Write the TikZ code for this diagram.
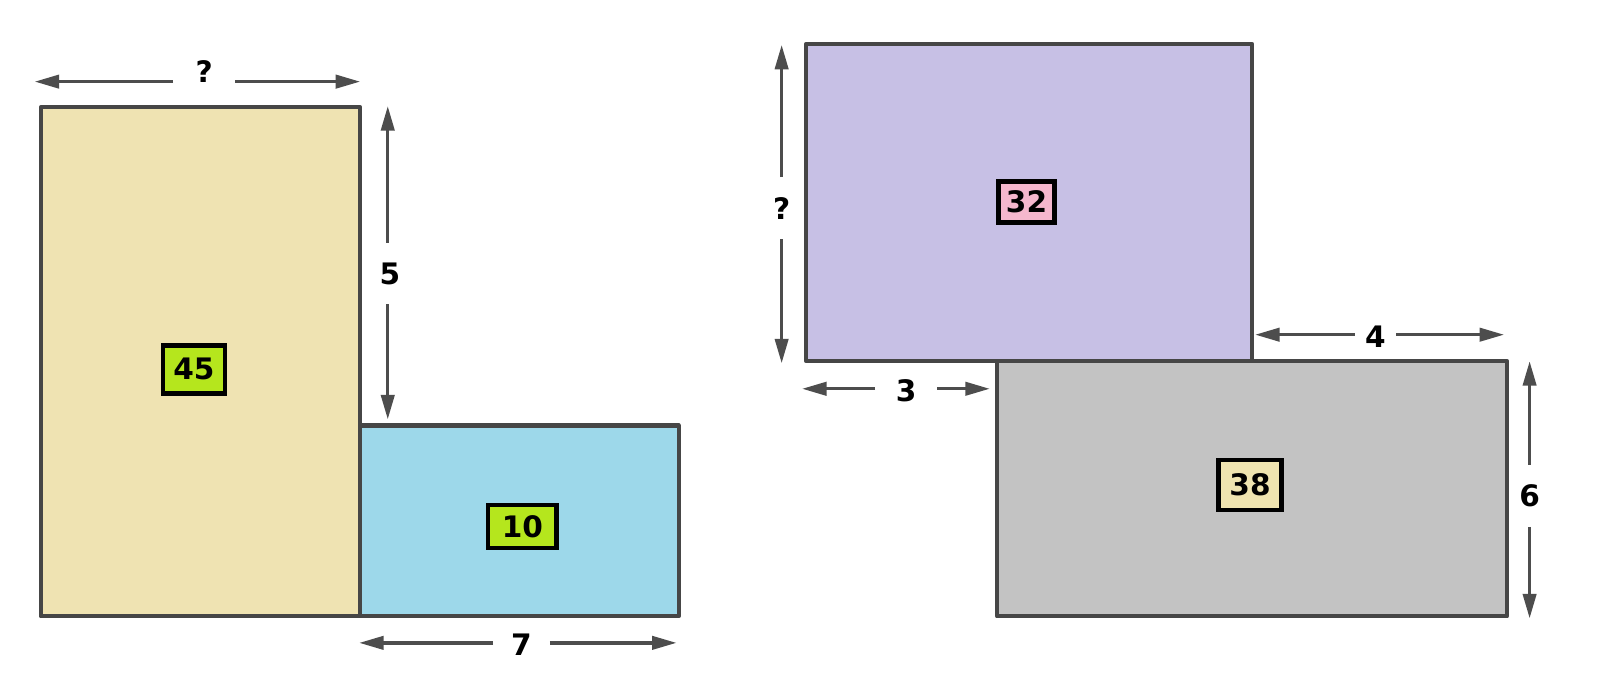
\documentclass[tikz,border=0pt]{standalone}
\usepackage{fontspec}
\setmainfont{DejaVu Sans}
\usetikzlibrary{positioning,arrows.meta}
\definecolor{amarillo}{HTML}{EFE3B2}
\definecolor{celeste}{HTML}{9DD8EA}
\definecolor{lima}{HTML}{B5E61D}
\definecolor{lila}{HTML}{C7C0E5}
\definecolor{gris}{HTML}{C3C3C3}
\definecolor{rosa}{HTML}{F5B7CD}
\definecolor{crema}{HTML}{EFE4B0}
\definecolor{borde}{HTML}{464646}
\definecolor{flecha}{HTML}{4D4D4D}
\tikzset{lado/.style={line width=0.08cm, draw=borde, line join=round}}
\tikzset{cota/.style={line width=0.065cm, draw=flecha, -{Triangle[length=0.48cm,width=0.26cm]}}}
\tikzset{area/.style={draw=black, line width=0.085cm, font=\fontsize{16.5}{19}\selectfont\bfseries, inner sep=0pt}}
\tikzset{medida/.style={font=\fontsize{16.5}{19}\selectfont\bfseries, minimum size=1.2cm, inner sep=0pt}}

\begin{document}
\begin{tikzpicture}[x=0.02cm, y=-0.02cm]
            \useasboundingbox[fill=white] (0,0) rectangle (1568,686);

            % figura izquierda
            \draw[lado, fill=amarillo] (40,105) rectangle (353,604);
            \draw[lado, fill=celeste] (353,417) rectangle (665,604);
            \node[area, fill=lima, minimum width=1.22cm, minimum height=0.94cm] (a45) at (190,362) {45};
            \node[area, fill=lima, minimum width=1.34cm, minimum height=0.84cm] (a10) at (512,516) {10};

            \node[medida] (q1) at (200,70) {?};
            \coordinate (q1i) at (34,80);
            \coordinate (q1d) at (353,80);
            \draw[cota] (q1.west |- q1i) to (q1i);
            \draw[cota] (q1.east |- q1d) to (q1d);

            \node[medida] (m5) at (382,268) {5};
            \coordinate (m5a) at (380,104);
            \coordinate (m5b) at (380,411);
            \draw[cota] (m5.north -| m5a) to (m5a);
            \draw[cota] (m5.south -| m5b) to (m5b);

            \node[medida, minimum width=1.1cm] (m7) at (511,632) {7};
            \coordinate (m7i) at (352,630);
            \coordinate (m7d) at (663,630);
            \draw[cota] (m7.west |- m7i) to (m7i);
            \draw[cota] (m7.east |- m7d) to (m7d);

            % figura derecha
            \draw[lado, fill=lila] (790,43) rectangle (1227,354);
            \draw[lado, fill=gris] (977,354) rectangle (1477,604);
            \node[area, fill=rosa, minimum width=1.1cm, minimum height=0.8cm] (a32) at (1006,198) {32};
            \node[area, fill=crema, minimum width=1.24cm, minimum height=0.98cm] (a38) at (1225,475) {38};

            \node[medida] (q2) at (766,204) {?};
            \coordinate (q2a) at (766,44);
            \coordinate (q2b) at (766,356);
            \draw[cota] (q2.north) to (q2a);
            \draw[cota] (q2.south) to (q2b);

            \node[medida] (m3) at (888,383) {3};
            \coordinate (m3i) at (786,381);
            \coordinate (m3d) at (970,381);
            \draw[cota] (m3.west |- m3i) to (m3i);
            \draw[cota] (m3.east |- m3d) to (m3d);

            \node[medida, minimum width=0.8cm] (m4) at (1348,330) {4};
            \coordinate (m4i) at (1230,328);
            \coordinate (m4d) at (1474,328);
            \draw[cota] (m4.west |- m4i) to (m4i);
            \draw[cota] (m4.east |- m4d) to (m4d);

            \node[medida] (m6) at (1499,486) {6};
            \coordinate (m6a) at (1499,354);
            \coordinate (m6b) at (1499,606);
            \draw[cota] (m6.north) to (m6a);
            \draw[cota] (m6.south) to (m6b);
        \end{tikzpicture}
\end{document}
